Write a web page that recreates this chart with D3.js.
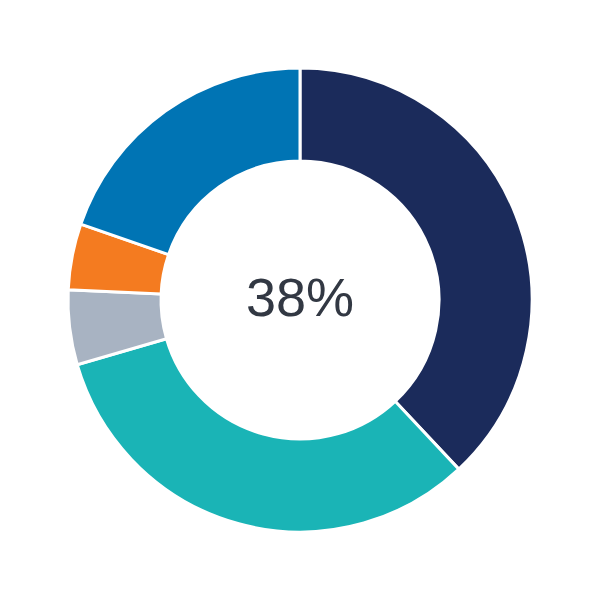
<!DOCTYPE html>
<html>
<head>
<meta charset="utf-8">
<script src="https://cdn.jsdelivr.net/npm/d3@7"></script>
<style>
  html, body { margin: 0; padding: 0; background: #fff; }
</style>
</head>
<body>
<div id="chart"></div>
<script>
const categories = ['A', 'B', 'C', 'D', 'E']
const values = [38, 32.5, 5.2, 4.6, 19.7]
const colors = ['#1b2b5b', '#1ab4b6', '#a8b3c2', '#f47b20', '#0074b4']
const centerLabel = '38%'

const width = 600
const height = 600
const outerRadius = 232
const innerRadius = 139

const svg = d3.select('#chart')
  .append('svg')
  .attr('width', width)
  .attr('height', height)
  .append('g')
  .attr('transform', `translate(${width / 2},${height / 2})`)

const color = d3.scaleOrdinal()
  .domain(categories)
  .range(colors)

const pie = d3.pie()
  .sort(null)
  .value(d => d.value)

const arc = d3.arc()
  .innerRadius(innerRadius)
  .outerRadius(outerRadius)

const data = categories.map((c, i) => ({ name: c, value: values[i] }))

svg.selectAll('path')
  .data(pie(data))
  .join('path')
  .attr('d', arc)
  .attr('fill', d => color(d.data.name))
  .attr('stroke', '#fff')
  .attr('stroke-width', 3)

svg.append('text')
  .attr('x', 0)
  .attr('y', 16)
  .attr('text-anchor', 'middle')
  .style('font-family', 'Liberation Sans, Arial, sans-serif')
  .style('font-size', '54px')
  .style('fill', '#323843')
  .text(centerLabel)
</script>
</body>
</html>
